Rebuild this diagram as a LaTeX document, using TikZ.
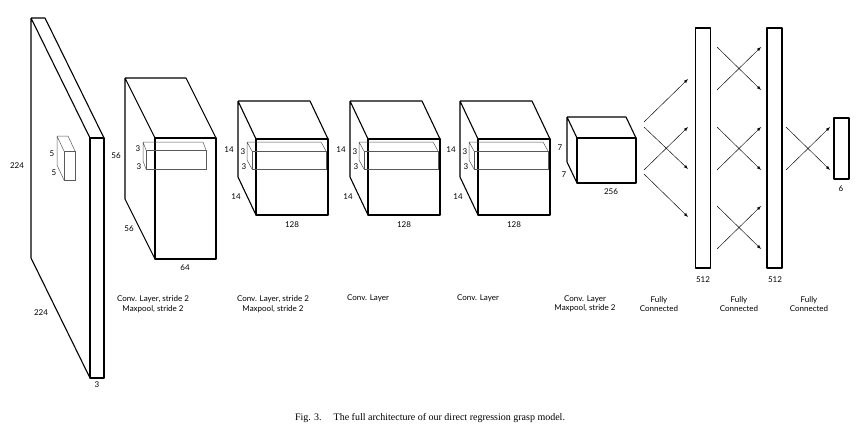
\documentclass[tikz,border=0pt]{standalone}
\usepackage{fontspec}
\setmainfont{Lato}
\newfontfamily\capfont{Liberation Serif}
\begin{document}
\newcommand\mycube[7]{% bx by w h dx dy style
 \draw[#7] (#1,#2) -- ++(#3,0) -- ++(#5,#6) (#1,#2) -- ++(0,#4) -- ++(#5,#6) (#1,#2) -- ++(#5,#6);
 \draw[#7] (#1+#5,#2+#6) rectangle ++(#3,#4);}
\begin{tikzpicture}[x=1pt,y=-1pt,
 thk/.style={line width=1.1pt,line join=round},
 thn/.style={line width=0.5pt,gray!70!black},
 lbl/.style={font=\fontsize{8}{9.5}\selectfont,inner sep=0pt,align=center},
 ar/.style={-latex,line width=0.45pt}]
\useasboundingbox (0,0) rectangle (864,431);
% input slab
\mycube{31}{18}{14}{240}{59}{120}{thk}
\mycube{57}{136}{11}{29}{7}{15}{thn}
\node[lbl] (l224a) at (17,166) {224};
\node[lbl] (l224b) at (41,313) {224};
\node[lbl] (l3a) at (97,385) {3};
\node[lbl] (l5a) at (52,154) {5};
\node[lbl] (l5b) at (54,173) {5};
% block 1
\mycube{125}{78}{61}{121}{30}{60}{thk}
\mycube{143}{142}{60}{19}{3}{8}{thn}
\node[lbl] (b1a) at (116,156) {56};
\node[lbl] (b1b) at (129,229) {56};
\node[lbl] (b1c) at (185,268) {64};
\node[lbl] (b1d) at (138,149) {3};
\node[lbl] (b1e) at (139,167) {3};
\node[lbl] (t1) at (153,304) {Conv. Layer, stride 2\\Maxpool, stride 2};
% blocks 2-4
\foreach \o/\n in {0/a,112/b,222/c}{
 \mycube{238+\o}{101}{72}{76}{18}{38}{thk}
 \mycube{247+\o}{142}{74}{18}{5}{9}{thn}
 \node[lbl] (s14\n) at (229+\o,150) {14};
 \node[lbl] (sa\n) at (243+\o,152) {3};
 \node[lbl] (sb\n) at (244+\o,167) {3};
 \node[lbl] (sc\n) at (236+\o,197) {14};
 \node[lbl] (sd\n) at (292+\o,225) {128};
}
\node[lbl] (t2) at (273,304) {Conv. Layer, stride 2\\Maxpool, stride 2};
\node[lbl] (t3) at (368,298) {Conv. Layer};
\node[lbl] (t4) at (478,298) {Conv. Layer};
% block 5
\mycube{567}{117}{59}{45}{10}{21}{thk}
\node[lbl] (b5a) at (560,148) {7};
\node[lbl] (b5b) at (564,175) {7};
\node[lbl] (b5c) at (611,192) {256};
\node[lbl] (t5) at (585,304) {Conv. Layer\\Maxpool, stride 2};
% FC bars
\node[draw,thk,minimum width=15pt,minimum height=240pt,inner sep=0pt] (fc1) at (703,148) {};
\node[draw,thk,minimum width=15pt,minimum height=240pt,inner sep=0pt] (fc2) at (774.5,148) {};
\node[draw,thk,minimum width=15pt,minimum height=61pt,inner sep=0pt] (out) at (841.5,148.5) {};
\node[lbl] (n1) at (703,280) {512};
\node[lbl] (n2) at (775,280) {512};
\node[lbl] (n3) at (841,189) {6};
\node[lbl] (t6) at (659,304) {Fully\\Connected};
\node[lbl] (t7) at (739,304) {Fully\\Connected};
\node[lbl] (t8) at (809,304) {Fully\\Connected};
% arrows
\draw[ar] (644,122) -- (688,79);
\draw[ar] (644,127) -- (688,169);
\draw[ar] (644,170) -- (688,127);
\draw[ar] (644,174) -- (688,217);
\foreach \y in {47,127,206}{
 \draw[ar] (717,\y) -- (761,\y+43);
 \draw[ar] (717,\y+43) -- (761,\y);
}
\draw[ar] (786,127) -- (830,170);
\draw[ar] (786,170) -- (830,127);
\node[font=\capfont\fontsize{10}{11}\selectfont,inner sep=0pt] (cap) at (430,418) {Fig. 3.\hspace{1.2em}The full architecture of our direct regression grasp model.};
\end{tikzpicture}
\end{document}
